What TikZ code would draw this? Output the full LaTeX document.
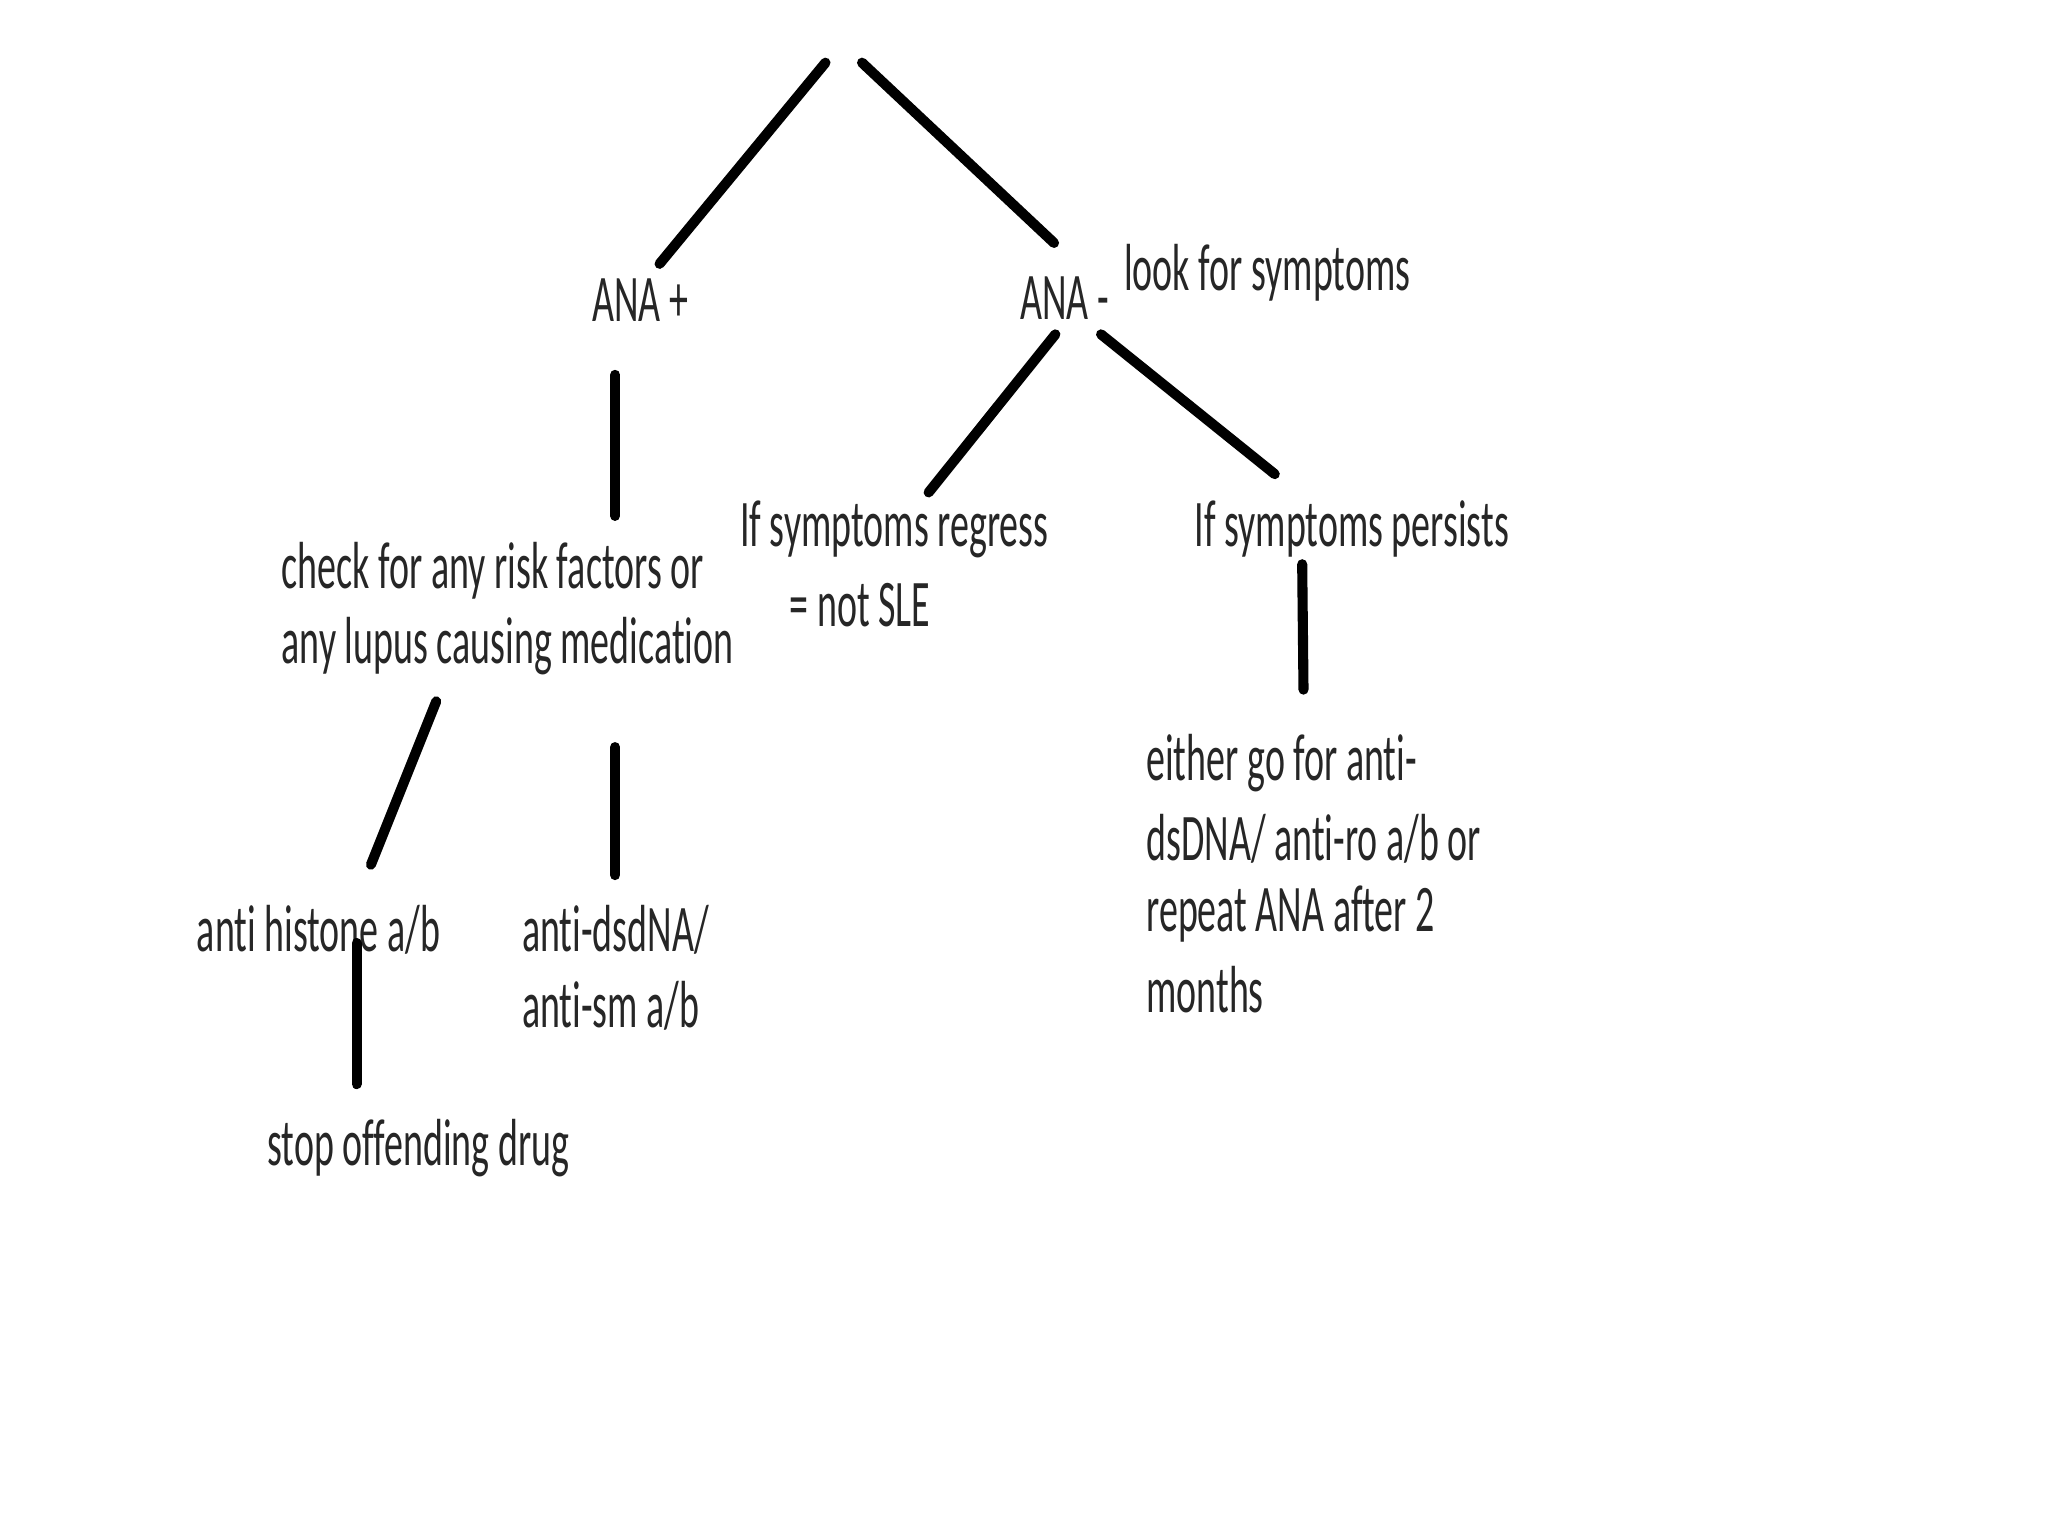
\documentclass[tikz,border=0pt]{standalone}
\usepackage{fontspec}
\setmainfont[FakeStretch=0.57,RawFeature={-liga}]{Carlito}
\begin{document}
\begin{tikzpicture}[x=0.01cm,y=-0.01cm,
  lbl/.style={inner sep=0pt,font=\fontsize{14.5}{16}\selectfont,text=black!85},
  stroke/.style={line width=2.2pt,line cap=round}]
\useasboundingbox (0,0) rectangle (1568,1176);
\node[lbl] (anap) at (490,230) {ANA +};
\node[lbl] (anam) at (815,228) {ANA -};
\node[lbl,anchor=west] (look) at (860,209) {look for symptoms};
\node[lbl,anchor=west] (reg) at (566,405) {If symptoms regress};
\node[lbl,anchor=west] (nsle) at (604,463) {= not SLE};
\node[lbl,anchor=west] (pers) at (914,405) {If symptoms persists};
\node[lbl,anchor=west] (chk1) at (215,437) {check for any risk factors or};
\node[lbl,anchor=west] (chk2) at (215,495) {any lupus causing medication};
\node[lbl,anchor=west] (hist) at (150,712) {anti histone a/b};
\node[lbl,anchor=west] (ds1) at (399,712) {anti-dsdNA/};
\node[lbl,anchor=west] (ds2) at (399,770) {anti-sm a/b};
\node[lbl,anchor=west] (stop) at (204,879) {stop offending drug};
\node[lbl,anchor=west] (e1) at (877,584) {either go for anti-};
\node[lbl,anchor=west] (e2) at (877,642) {dsDNA/ anti-ro a/b or};
\node[lbl,anchor=west] (e3) at (877,700) {repeat ANA after 2};
\node[lbl,anchor=west] (e4) at (877,758) {months};
\coordinate (a1) at (632,48); \coordinate (a2) at (505,202);
\coordinate (b1) at (660,48); \coordinate (b2) at (807,186);
\coordinate (c1) at (471,287); \coordinate (c2) at (471,395);
\coordinate (d1) at (808,256); \coordinate (d2) at (711,377);
\coordinate (f1) at (843,256); \coordinate (f2) at (976,363);
\coordinate (g1) at (997,432); \coordinate (g2) at (998,528);
\coordinate (h1) at (334,537); \coordinate (h2) at (284,662);
\coordinate (i1) at (471,572); \coordinate (i2) at (471,670);
\coordinate (j1) at (273,722); \coordinate (j2) at (273,830);
\foreach \p in {a,b,c,d,f,g,h,i,j} \draw[stroke] (\p1) -- (\p2);
\end{tikzpicture}
\end{document}
